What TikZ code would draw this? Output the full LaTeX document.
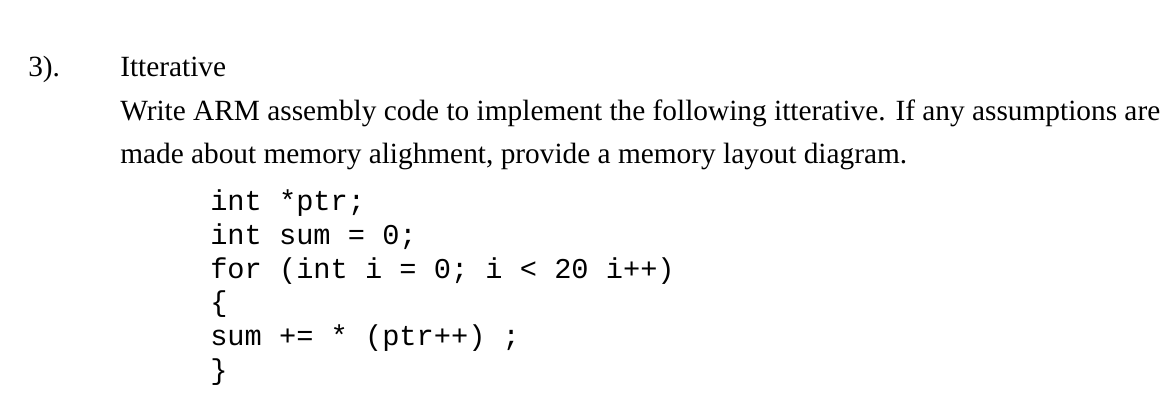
\documentclass[tikz,border=0pt]{standalone}
\usepackage{fontspec}
\setmainfont{Liberation Serif}
\setmonofont{Liberation Mono}
\begin{document}
\begin{tikzpicture}[x=0.75pt,y=-0.75pt,
  txt/.style={anchor=base west,inner sep=0pt,font=\fontsize{22pt}{24pt}\selectfont},
  code/.style={anchor=base west,inner sep=0pt,font=\ttfamily\fontsize{21.5pt}{24pt}\selectfont}]
\useasboundingbox (0,0) rectangle (1174,410);
\node[txt] (num) at (28,77) {3).};
\node[txt] (title) at (120,77) {Itterative};
\node[txt] (l1) at (120,120) {Write ARM assembly code to implement the following itterative. If any assumptions are};
\node[txt] (l2) at (120,163) {made about memory alighment, provide a memory layout diagram.};
\node[code] (c1) at (210,210) {int *ptr;};
\node[code] (c2) at (210,244) {int sum = 0;};
\node[code] (c3) at (210,278) {for (int i = 0; i < 20 i++)};
\node[code] (c4) at (210,311) {\{};
\node[code] (c5) at (210,345) {sum += * (ptr++) ;};
\node[code] (c6) at (210,379) {\}};
\end{tikzpicture}
\end{document}
